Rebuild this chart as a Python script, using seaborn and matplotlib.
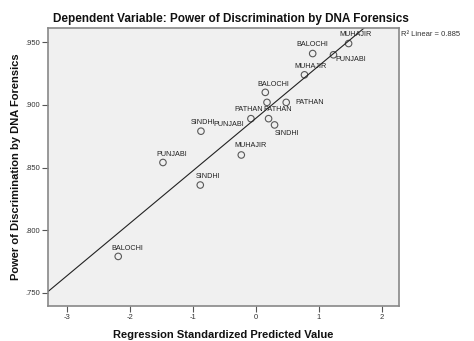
import matplotlib
matplotlib.use("Agg")
import matplotlib.pyplot as plt
import seaborn as sns
import pandas as pd

# ---- data ----
groups = ["MUHAJIR", "PUNJABI", "BALOCHI", "MUHAJIR", "BALOCHI", "PATHAN", "PATHAN",
          "PUNJABI", "PATHAN", "SINDHI", "SINDHI", "MUHAJIR", "PUNJABI", "SINDHI", "BALOCHI"]
pred_values = [1.47, 1.23, 0.90, 0.77, 0.148, 0.175, 0.48,
               -0.08, 0.20, 0.295, -0.873, -0.233, -1.476, -0.884, -2.186]
power_values = [0.949, 0.940, 0.941, 0.924, 0.910, 0.902, 0.902,
                0.889, 0.889, 0.884, 0.879, 0.860, 0.854, 0.836, 0.779]
y_ticks = [0.750, 0.800, 0.850, 0.900, 0.950]
y_tick_labels = [".750", ".800", ".850", ".900", ".950"]
x_ticks = [-3, -2, -1, 0, 1, 2]
r2_text = "R\u00b2 Linear = 0.885"

# ---- layout: label offsets (pixels) for each point ----
label_offsets = [(7, 9), (17, -5), (0, 9), (6, 8), (8, 8), (-18, -7), (23, 0),
                 (-22, -6), (9, 9), (12, -9), (2, 9), (9, 9), (9, 8), (8, 9), (9, 8)]

df = pd.DataFrame({"group": groups, "pred": pred_values, "power": power_values})

sns.set_style("white")
plt.rcParams["font.family"] = ["Liberation Sans", "DejaVu Sans"]

fig = plt.figure(figsize=(4.74, 3.41), dpi=100)
ax = fig.add_axes([0.1013, 0.1026, 0.7405, 0.8153])
ax.set_facecolor("#f0f0f0")
ax.set_xlim(-3.30, 2.27)
ax.set_ylim(0.7394, 0.9614)

sns.regplot(data=df, x="pred", y="power", ax=ax, ci=None, truncate=False,
            scatter_kws=dict(s=22, facecolors="none", edgecolors="#333333", linewidths=0.8),
            line_kws=dict(color="#222222", linewidth=0.8))

for g, x, y, (dx, dy) in zip(groups, pred_values, power_values, label_offsets):
    ax.annotate(g, (x, y), xytext=(dx, dy), textcoords="offset pixels",
                ha="center", va="center", fontsize=5.2, color="#222222")

ax.set_xticks(x_ticks)
ax.set_xticklabels([str(t) for t in x_ticks])
ax.set_yticks(y_ticks)
ax.set_yticklabels(y_tick_labels)
ax.tick_params(axis="both", direction="out", length=4, width=0.8, color="#555555",
               labelsize=5.5, labelcolor="#333333", pad=2)
ax.tick_params(left=True, bottom=True)
for sp in ax.spines.values():
    sp.set_color("#888888")
    sp.set_linewidth(1.2)

ax.set_xlabel("Regression Standardized Predicted Value", fontsize=8,
              fontweight="bold", color="#111111", labelpad=6)
ax.set_ylabel("Power of Discrimination by DNA Forensics", fontsize=8,
              fontweight="bold", color="#111111", labelpad=3)
ax.set_title("Dependent Variable: Power of Discrimination by DNA Forensics",
             fontsize=8.5, fontweight="bold", color="#111111", pad=4, x=0.521)

fig.text(401 / 474, 1 - 35 / 341, r2_text, fontsize=5.5, color="#333333",
         ha="left", va="center")

fig.savefig("out.png", dpi=100, facecolor="white")
